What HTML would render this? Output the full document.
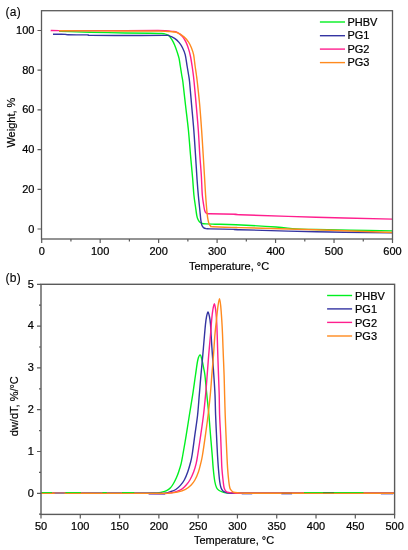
<!DOCTYPE html>
<html><head><meta charset="utf-8"><title>TGA / DTG</title>
<style>html,body{margin:0;padding:0;background:#fff;width:408px;height:550px;overflow:hidden}svg{display:block}</style>
</head><body>
<svg width="408" height="550" viewBox="0 0 408 550">
<rect width="408" height="550" fill="#ffffff"/>
<g fill="none" stroke-width="1.4" stroke-linejoin="round" stroke-linecap="butt"><path d="M59.00,31.40 C60.83,31.43 64.83,31.47 70.00,31.60 C75.17,31.73 80.83,31.97 90.00,32.20 C99.17,32.43 115.00,32.82 125.00,33.00 C135.00,33.18 144.17,33.22 150.00,33.30 C155.83,33.38 157.67,33.42 160.00,33.50 C162.33,33.58 162.60,33.50 164.00,33.80 C165.40,34.10 167.08,34.32 168.40,35.30 C169.72,36.28 170.87,38.08 171.90,39.70 C172.93,41.32 173.72,42.93 174.60,45.00 C175.48,47.07 176.47,49.90 177.20,52.10 C177.93,54.30 178.48,55.88 179.00,58.20 C179.52,60.52 179.85,63.20 180.30,66.00 C180.75,68.80 181.27,72.33 181.70,75.00 C182.13,77.67 182.27,77.00 182.90,82.00 C183.53,87.00 184.58,97.00 185.50,105.00 C186.42,113.00 187.57,121.67 188.40,130.00 C189.23,138.33 189.80,147.00 190.50,155.00 C191.20,163.00 192.03,171.33 192.60,178.00 C193.17,184.67 193.43,190.33 193.90,195.00 C194.37,199.67 194.92,202.57 195.40,206.00 C195.88,209.43 196.37,213.35 196.80,215.60 C197.23,217.85 197.53,218.43 198.00,219.50 C198.47,220.57 198.93,221.37 199.60,222.00 C200.27,222.63 200.93,222.98 202.00,223.30 C203.07,223.62 203.83,223.75 206.00,223.90 C208.17,224.05 210.00,224.07 215.00,224.20 C220.00,224.33 225.83,224.23 236.00,224.70 C246.17,225.17 266.00,226.28 276.00,227.00 C286.00,227.72 289.33,228.58 296.00,229.00 C302.67,229.42 307.00,229.30 316.00,229.50 C325.00,229.70 337.25,229.97 350.00,230.20 C362.75,230.43 385.42,230.78 392.50,230.90" stroke="#00f020"/><path d="M53.00,34.30 C54.17,34.30 57.83,34.28 60.00,34.30 C62.17,34.32 64.67,34.32 66.00,34.40 C67.33,34.48 64.50,34.72 68.00,34.80 C71.50,34.88 83.17,34.80 87.00,34.90 C90.83,35.00 84.67,35.30 91.00,35.40 C97.33,35.50 112.83,35.50 125.00,35.50 C137.17,35.50 156.62,35.35 164.00,35.40 C171.38,35.45 167.53,35.30 169.30,35.80 C171.07,36.30 172.98,37.30 174.60,38.40 C176.22,39.50 177.68,40.85 179.00,42.40 C180.32,43.95 181.47,45.65 182.50,47.70 C183.53,49.75 184.43,51.65 185.20,54.70 C185.97,57.75 186.53,62.62 187.10,66.00 C187.67,69.38 188.18,72.33 188.60,75.00 C189.02,77.67 189.10,77.00 189.60,82.00 C190.10,87.00 190.90,97.00 191.60,105.00 C192.30,113.00 193.15,121.67 193.80,130.00 C194.45,138.33 194.95,146.67 195.50,155.00 C196.05,163.33 196.63,173.33 197.10,180.00 C197.57,186.67 197.85,190.05 198.30,195.00 C198.75,199.95 199.37,205.42 199.80,209.70 C200.23,213.98 200.53,218.07 200.90,220.70 C201.27,223.33 201.57,224.35 202.00,225.50 C202.43,226.65 202.83,227.08 203.50,227.60 C204.17,228.12 204.92,228.38 206.00,228.60 C207.08,228.82 205.00,228.77 210.00,228.90 C215.00,229.03 231.00,229.27 236.00,229.40 C241.00,229.53 226.67,229.30 240.00,229.70 C253.33,230.10 290.58,231.27 316.00,231.80 C341.42,232.33 379.75,232.72 392.50,232.90" stroke="#3434a2"/><path d="M51.00,30.50 C52.33,30.52 46.67,30.58 59.00,30.60 C71.33,30.62 108.50,30.62 125.00,30.60 C141.50,30.58 151.17,30.48 158.00,30.50 C164.83,30.52 163.67,30.55 166.00,30.70 C168.33,30.85 170.13,31.12 172.00,31.40 C173.87,31.68 175.45,31.53 177.20,32.40 C178.95,33.27 181.02,34.93 182.50,36.60 C183.98,38.27 185.07,40.27 186.10,42.40 C187.13,44.53 187.97,47.05 188.70,49.40 C189.43,51.75 189.93,53.73 190.50,56.50 C191.07,59.27 191.65,63.08 192.10,66.00 C192.55,68.92 192.87,71.33 193.20,74.00 C193.53,76.67 193.60,76.83 194.10,82.00 C194.60,87.17 195.50,97.00 196.20,105.00 C196.90,113.00 197.70,121.67 198.30,130.00 C198.90,138.33 199.30,147.50 199.80,155.00 C200.30,162.50 200.88,168.33 201.30,175.00 C201.72,181.67 201.88,189.83 202.30,195.00 C202.72,200.17 203.40,203.42 203.80,206.00 C204.20,208.58 204.37,209.37 204.70,210.50 C205.03,211.63 205.33,212.28 205.80,212.80 C206.27,213.32 206.80,213.43 207.50,213.60 C208.20,213.77 205.25,213.68 210.00,213.80 C214.75,213.92 231.00,214.15 236.00,214.30 C241.00,214.45 226.67,214.20 240.00,214.70 C253.33,215.20 290.58,216.57 316.00,217.30 C341.42,218.03 379.75,218.80 392.50,219.10" stroke="#ff1f8e"/><path d="M59.00,30.70 C70.00,30.75 108.17,30.93 125.00,31.00 C141.83,31.07 152.50,31.00 160.00,31.10 C167.50,31.20 167.13,31.35 170.00,31.60 C172.87,31.85 174.82,31.68 177.20,32.60 C179.58,33.52 182.38,35.47 184.30,37.10 C186.22,38.73 187.52,40.63 188.70,42.40 C189.88,44.17 190.58,45.65 191.40,47.70 C192.22,49.75 192.98,51.65 193.60,54.70 C194.22,57.75 194.63,62.62 195.10,66.00 C195.57,69.38 196.02,72.17 196.40,75.00 C196.78,77.83 196.85,78.00 197.40,83.00 C197.95,88.00 199.00,97.17 199.70,105.00 C200.40,112.83 201.02,121.67 201.60,130.00 C202.18,138.33 202.68,146.67 203.20,155.00 C203.72,163.33 204.30,173.33 204.70,180.00 C205.10,186.67 205.20,189.43 205.60,195.00 C206.00,200.57 206.67,209.12 207.10,213.40 C207.53,217.68 207.85,218.88 208.20,220.70 C208.55,222.52 208.77,223.40 209.20,224.30 C209.63,225.20 210.17,225.70 210.80,226.10 C211.43,226.50 208.80,226.47 213.00,226.70 C217.20,226.93 231.50,227.35 236.00,227.50 C240.50,227.65 226.67,227.22 240.00,227.60 C253.33,227.98 290.58,228.98 316.00,229.80 C341.42,230.62 379.75,232.05 392.50,232.50" stroke="#ff8a1e"/></g>
<path d="M41.70,239.00 v4 M100.17,239.00 v4 M158.63,239.00 v4 M217.10,239.00 v4 M275.57,239.00 v4 M334.03,239.00 v4 M392.50,239.00 v4 M70.93,239.00 v2.5 M129.40,239.00 v2.5 M187.87,239.00 v2.5 M246.33,239.00 v2.5 M304.80,239.00 v2.5 M363.27,239.00 v2.5 M41.50,229.00 h-4 M41.50,189.30 h-4 M41.50,149.60 h-4 M41.50,109.90 h-4 M41.50,70.20 h-4 M41.50,30.50 h-4" stroke="#5a5a5a" stroke-width="1.2" fill="none"/>
<rect x="41.50" y="10.70" width="351.00" height="228.30" fill="none" stroke="#5a5a5a" stroke-width="1.3"/>
<path d="M319.9,22.00 H345.0" stroke="#00f020" stroke-width="1.4"/>
<path d="M319.9,35.70 H345.0" stroke="#3434a2" stroke-width="1.4"/>
<path d="M319.9,49.10 H345.0" stroke="#ff1f8e" stroke-width="1.4"/>
<path d="M319.9,62.60 H345.0" stroke="#ff8a1e" stroke-width="1.4"/>
<g fill="none" stroke-width="1.4" stroke-linejoin="round"><path d="M41.00,493.20 C57.50,493.20 120.70,493.25 140.00,493.20 C159.30,493.15 153.18,493.07 156.80,492.90 C160.42,492.73 160.07,492.57 161.70,492.20 C163.33,491.83 165.13,491.43 166.60,490.70 C168.07,489.97 169.35,489.00 170.50,487.80 C171.65,486.60 172.50,485.22 173.50,483.50 C174.50,481.78 175.63,479.47 176.50,477.50 C177.37,475.53 177.92,474.07 178.70,471.70 C179.48,469.33 180.52,466.08 181.20,463.30 C181.88,460.52 181.95,459.78 182.80,455.00 C183.65,450.22 185.20,441.27 186.30,434.60 C187.40,427.93 188.33,421.67 189.40,415.00 C190.47,408.33 191.68,401.27 192.70,394.60 C193.72,387.93 194.65,380.77 195.50,375.00 C196.35,369.23 197.02,363.33 197.80,360.00 C198.58,356.67 199.50,355.00 200.20,355.00 C200.90,355.00 201.42,357.78 202.00,360.00 C202.58,362.22 203.22,365.80 203.70,368.30 C204.18,370.80 204.38,370.62 204.90,375.00 C205.42,379.38 206.13,387.93 206.80,394.60 C207.47,401.27 208.28,408.27 208.90,415.00 C209.52,421.73 209.95,428.33 210.50,435.00 C211.05,441.67 211.75,449.47 212.20,455.00 C212.65,460.53 212.77,463.78 213.20,468.20 C213.63,472.62 214.23,478.25 214.80,481.50 C215.37,484.75 215.93,486.23 216.60,487.70 C217.27,489.17 217.77,489.57 218.80,490.30 C219.83,491.03 221.27,491.65 222.80,492.10 C224.33,492.55 221.80,492.82 228.00,493.00 C234.20,493.18 232.23,493.17 260.00,493.20 C287.77,493.23 372.17,493.20 394.60,493.20" stroke="#00f020"/><path d="M41.00,493.30 C59.17,493.30 129.40,493.32 150.00,493.30 C170.60,493.28 161.18,493.47 164.60,493.20 C168.02,492.93 168.63,492.32 170.50,491.70 C172.37,491.08 174.15,490.55 175.80,489.50 C177.45,488.45 178.98,486.98 180.40,485.40 C181.82,483.82 183.07,482.28 184.30,480.00 C185.53,477.72 186.80,474.48 187.80,471.70 C188.80,468.92 189.58,466.08 190.30,463.30 C191.02,460.52 191.33,459.78 192.10,455.00 C192.87,450.22 193.98,441.27 194.90,434.60 C195.82,427.93 196.87,421.67 197.60,415.00 C198.33,408.33 198.74,401.27 199.30,394.60 C199.86,387.93 200.37,381.60 200.95,375.00 C201.53,368.40 202.21,361.67 202.80,355.00 C203.39,348.33 204.05,340.15 204.50,335.00 C204.95,329.85 205.17,327.13 205.50,324.10 C205.83,321.07 206.08,318.83 206.50,316.80 C206.92,314.77 207.50,311.90 208.00,311.90 C208.50,311.90 209.08,314.77 209.50,316.80 C209.92,318.83 210.23,321.07 210.50,324.10 C210.77,327.13 210.78,329.85 211.10,335.00 C211.42,340.15 211.95,348.33 212.40,355.00 C212.85,361.67 213.37,368.40 213.80,375.00 C214.23,381.60 214.70,387.93 215.00,394.60 C215.30,401.27 215.35,408.27 215.60,415.00 C215.85,421.73 216.18,428.33 216.50,435.00 C216.82,441.67 217.18,449.47 217.50,455.00 C217.82,460.53 218.03,463.78 218.40,468.20 C218.77,472.62 219.27,478.25 219.70,481.50 C220.13,484.75 220.42,486.08 221.00,487.70 C221.58,489.32 222.32,490.40 223.20,491.20 C224.08,492.00 224.83,492.17 226.30,492.50 C227.77,492.83 226.38,493.07 232.00,493.20 C237.62,493.33 232.90,493.28 260.00,493.30 C287.10,493.32 372.17,493.30 394.60,493.30" stroke="#3434a2"/><path d="M41.00,493.30 C59.17,493.32 129.40,493.35 150.00,493.40 C170.60,493.45 161.02,493.72 164.60,493.60 C168.18,493.48 169.43,493.08 171.50,492.70 C173.57,492.32 175.28,491.88 177.00,491.30 C178.72,490.72 180.27,490.25 181.80,489.20 C183.33,488.15 184.85,486.53 186.20,485.00 C187.55,483.47 188.65,482.22 189.90,480.00 C191.15,477.78 192.65,474.48 193.70,471.70 C194.75,468.92 195.53,466.08 196.20,463.30 C196.87,460.52 196.93,459.78 197.70,455.00 C198.47,450.22 199.83,441.27 200.80,434.60 C201.77,427.93 202.70,421.67 203.50,415.00 C204.30,408.33 204.98,401.27 205.60,394.60 C206.22,387.93 206.68,381.60 207.20,375.00 C207.72,368.40 208.15,361.67 208.70,355.00 C209.25,348.33 210.02,340.75 210.50,335.00 C210.98,329.25 211.20,324.75 211.60,320.50 C212.00,316.25 212.43,312.32 212.90,309.50 C213.37,306.68 213.95,303.60 214.40,303.60 C214.85,303.60 215.23,306.68 215.60,309.50 C215.97,312.32 216.33,316.25 216.60,320.50 C216.87,324.75 217.00,329.25 217.20,335.00 C217.40,340.75 217.58,348.33 217.80,355.00 C218.02,361.67 218.27,368.40 218.50,375.00 C218.73,381.60 219.02,387.93 219.20,394.60 C219.38,401.27 219.37,408.27 219.60,415.00 C219.83,421.73 220.31,428.33 220.60,435.00 C220.89,441.67 221.13,449.47 221.35,455.00 C221.57,460.53 221.59,463.78 221.90,468.20 C222.21,472.62 222.83,478.25 223.20,481.50 C223.57,484.75 223.65,486.08 224.10,487.70 C224.55,489.32 225.08,490.40 225.90,491.20 C226.72,492.00 227.32,492.17 229.00,492.50 C230.68,492.83 230.83,493.07 236.00,493.20 C241.17,493.33 233.57,493.28 260.00,493.30 C286.43,493.32 372.17,493.30 394.60,493.30" stroke="#ff1f8e"/><path d="M241.7,493.95 H252.2" stroke="#5a5ac8" stroke-width="1.0"/><path d="M281.3,493.95 H292.1" stroke="#5a5ac8" stroke-width="1.0"/><path d="M380.9,493.95 H393.2" stroke="#5a5ac8" stroke-width="1.0"/><path d="M148.6,494.1 H165.2" stroke="#6a3aa8" stroke-width="1.0"/><path d="M41.00,493.30 C59.17,493.32 130.22,493.38 150.00,493.40 C169.78,493.42 156.45,493.45 159.70,493.40 C162.95,493.35 166.55,493.32 169.50,493.10 C172.45,492.88 174.73,492.72 177.40,492.10 C180.07,491.48 183.20,490.58 185.50,489.40 C187.80,488.22 189.63,486.57 191.20,485.00 C192.77,483.43 193.68,482.22 194.90,480.00 C196.12,477.78 197.53,474.48 198.50,471.70 C199.47,468.92 200.08,466.08 200.75,463.30 C201.42,460.52 201.71,459.78 202.50,455.00 C203.29,450.22 204.57,441.27 205.50,434.60 C206.43,427.93 207.30,421.67 208.10,415.00 C208.90,408.33 209.68,401.27 210.30,394.60 C210.93,387.93 211.32,381.60 211.85,375.00 C212.38,368.40 212.99,361.67 213.50,355.00 C214.01,348.33 214.42,340.75 214.90,335.00 C215.38,329.25 215.88,325.35 216.40,320.50 C216.92,315.65 217.48,309.55 218.00,305.90 C218.52,302.25 219.05,298.60 219.50,298.60 C219.95,298.60 220.32,302.25 220.70,305.90 C221.08,309.55 221.49,315.65 221.80,320.50 C222.11,325.35 222.30,329.25 222.55,335.00 C222.80,340.75 223.04,348.33 223.30,355.00 C223.56,361.67 223.88,368.40 224.10,375.00 C224.32,381.60 224.42,387.93 224.60,394.60 C224.78,401.27 224.97,408.27 225.20,415.00 C225.43,421.73 225.72,428.33 226.00,435.00 C226.28,441.67 226.63,449.47 226.90,455.00 C227.17,460.53 227.28,463.78 227.60,468.20 C227.92,472.62 228.43,478.25 228.80,481.50 C229.17,484.75 229.40,486.23 229.80,487.70 C230.20,489.17 230.60,489.57 231.20,490.30 C231.80,491.03 232.30,491.68 233.40,492.10 C234.50,492.52 235.87,492.62 237.80,492.80 C239.73,492.98 239.63,493.12 245.00,493.20 C250.37,493.28 245.07,493.28 270.00,493.30 C294.93,493.32 373.83,493.30 394.60,493.30" stroke="#ff8a1e"/><path d="M42.0,492.55 H52.0" stroke="#00f020" stroke-width="0.9"/><path d="M65.5,492.55 H81.0" stroke="#00f020" stroke-width="0.9"/><path d="M102.4,492.55 H106.7" stroke="#00f020" stroke-width="0.9"/><path d="M122.0,492.55 H134.3" stroke="#00f020" stroke-width="0.9"/><path d="M304.0,492.55 H363.5" stroke="#00f020" stroke-width="0.9"/><path d="M54.7,493.2 H64.5" stroke="#8a72a8" stroke-width="1.1"/><path d="M323,492.7 H334" stroke="#4a6a40" stroke-width="0.8"/><path d="M281.5,493.3 H292" stroke="#b05a20" stroke-width="0.6"/></g>
<path d="M41.00,514.40 v4 M80.29,514.40 v4 M119.58,514.40 v4 M158.87,514.40 v4 M198.16,514.40 v4 M237.44,514.40 v4 M276.73,514.40 v4 M316.02,514.40 v4 M355.31,514.40 v4 M394.60,514.40 v4 M41.00,493.30 h-4 M41.00,451.50 h-4 M41.00,409.70 h-4 M41.00,367.90 h-4 M41.00,326.10 h-4 M41.00,284.30 h-4 M41.00,472.40 h-2 M41.00,430.60 h-2 M41.00,388.80 h-2 M41.00,347.00 h-2 M41.00,305.20 h-2 M41.00,514.20 h-2" stroke="#5a5a5a" stroke-width="1.2" fill="none"/>
<rect x="41.00" y="284.30" width="353.60" height="230.10" fill="none" stroke="#5a5a5a" stroke-width="1.4"/>
<path d="M327.1,295.50 H352.1" stroke="#00f020" stroke-width="1.4"/>
<path d="M327.1,308.90 H352.1" stroke="#3434a2" stroke-width="1.4"/>
<path d="M327.1,322.40 H352.1" stroke="#ff1f8e" stroke-width="1.4"/>
<path d="M327.1,336.00 H352.1" stroke="#ff8a1e" stroke-width="1.4"/>
<g font-family='"Liberation Sans", Arial, sans-serif' fill="#000000" stroke="#000000" stroke-width="0.22"><text x="41.70" y="254.70" text-anchor="middle" font-size="11" >0</text><text x="100.17" y="254.70" text-anchor="middle" font-size="11" >100</text><text x="158.63" y="254.70" text-anchor="middle" font-size="11" >200</text><text x="217.10" y="254.70" text-anchor="middle" font-size="11" >300</text><text x="275.57" y="254.70" text-anchor="middle" font-size="11" >400</text><text x="334.03" y="254.70" text-anchor="middle" font-size="11" >500</text><text x="392.50" y="254.70" text-anchor="middle" font-size="11" >600</text><text x="34.40" y="232.50" text-anchor="end" font-size="11" >0</text><text x="34.40" y="192.80" text-anchor="end" font-size="11" >20</text><text x="34.40" y="153.10" text-anchor="end" font-size="11" >40</text><text x="34.40" y="113.40" text-anchor="end" font-size="11" >60</text><text x="34.40" y="73.70" text-anchor="end" font-size="11" >80</text><text x="34.40" y="34.00" text-anchor="end" font-size="11" >100</text><text x="229.00" y="270.10" text-anchor="middle" font-size="11" stroke-width="0.2">Temperature, °C</text><text x="0.00" y="0.00" text-anchor="middle" font-size="11" stroke-width="0.2" transform="translate(15.3,122.6) rotate(-90)">Weight, %</text><text x="5.40" y="15.60" text-anchor="start" font-size="12" stroke-width="0.1" letter-spacing="0.35">(a)</text><text x="347.40" y="25.60" text-anchor="start" font-size="11" >PHBV</text><text x="347.40" y="39.10" text-anchor="start" font-size="11" >PG1</text><text x="347.40" y="52.70" text-anchor="start" font-size="11" >PG2</text><text x="347.40" y="66.30" text-anchor="start" font-size="11" >PG3</text><text x="41.00" y="530.00" text-anchor="middle" font-size="11" >50</text><text x="80.29" y="530.00" text-anchor="middle" font-size="11" >100</text><text x="119.58" y="530.00" text-anchor="middle" font-size="11" >150</text><text x="158.87" y="530.00" text-anchor="middle" font-size="11" >200</text><text x="198.16" y="530.00" text-anchor="middle" font-size="11" >250</text><text x="237.44" y="530.00" text-anchor="middle" font-size="11" >300</text><text x="276.73" y="530.00" text-anchor="middle" font-size="11" >350</text><text x="316.02" y="530.00" text-anchor="middle" font-size="11" >400</text><text x="355.31" y="530.00" text-anchor="middle" font-size="11" >450</text><text x="394.60" y="530.00" text-anchor="middle" font-size="11" >500</text><text x="33.80" y="496.50" text-anchor="end" font-size="11" >0</text><text x="33.80" y="454.70" text-anchor="end" font-size="11" >1</text><text x="33.80" y="412.90" text-anchor="end" font-size="11" >2</text><text x="33.80" y="371.10" text-anchor="end" font-size="11" >3</text><text x="33.80" y="329.30" text-anchor="end" font-size="11" >4</text><text x="33.80" y="287.50" text-anchor="end" font-size="11" >5</text><text x="234.00" y="544.40" text-anchor="middle" font-size="11" stroke-width="0.2">Temperature, °C</text><text x="0.00" y="0.00" text-anchor="middle" font-size="11" stroke-width="0.2" transform="translate(17.8,406.2) rotate(-90)">dw/dT, %/°C</text><text x="5.40" y="282.00" text-anchor="start" font-size="12" stroke-width="0.1" letter-spacing="0.35">(b)</text><text x="355.00" y="299.70" text-anchor="start" font-size="11" >PHBV</text><text x="355.00" y="313.10" text-anchor="start" font-size="11" >PG1</text><text x="355.00" y="326.60" text-anchor="start" font-size="11" >PG2</text><text x="355.00" y="340.20" text-anchor="start" font-size="11" >PG3</text></g>
</svg>
</body></html>
